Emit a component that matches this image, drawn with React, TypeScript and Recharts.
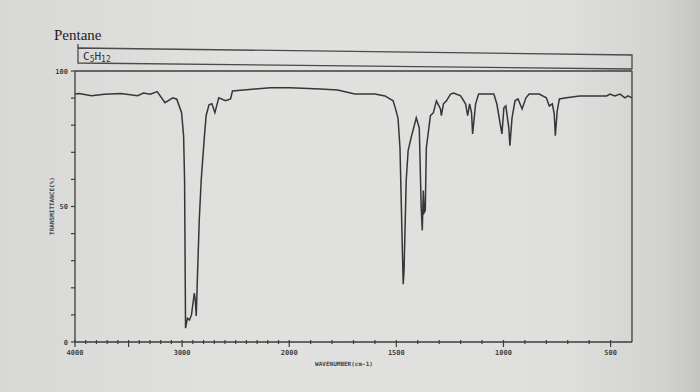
import React from 'react';
import { LineChart, Line, XAxis, YAxis, ReferenceLine } from 'recharts';

// IR spectrum of pentane: wavenumber (cm-1) and transmittance (%)
const wavenumbers = [
  4000, 3963, 3845, 3726, 3571, 3416, 3361, 3297, 3233, 3160, 3087, 3050, 3005, 2986, 2977,
  2968, 2950, 2932, 2913, 2886, 2877, 2868, 2858, 2840, 2822, 2795, 2776, 2749, 2722, 2694,
  2658, 2594, 2548, 2530, 2320, 2174, 1995, 1854, 1774, 1694, 1600, 1553, 1515, 1501, 1492,
  1483, 1473, 1468, 1464, 1454, 1445, 1431, 1407, 1393, 1384, 1379, 1374, 1370, 1365, 1360,
  1341, 1327, 1313, 1294, 1290, 1280, 1266, 1247, 1233, 1200, 1177, 1167, 1158, 1149, 1144,
  1130, 1116, 1045, 1031, 1012, 1007, 998, 989, 975, 970, 960, 946, 932, 913, 895,
  880, 833, 800, 786, 772, 763, 758, 749, 739, 706, 645, 584, 518, 503, 480,
  456, 433, 419, 400,
];
const transmittance = [
  91.5, 91.7, 90.9, 91.4, 91.7, 90.9, 91.9, 91.4, 92.4, 88.3, 90.1, 89.6, 84.6, 76, 59.6,
  5.1, 8.8, 8.1, 9.9, 18, 15.4, 9.6, 22.8, 44.9, 59.6, 74.3, 83.5, 87.5, 87.9, 84.6,
  90.1, 89, 89.7, 92.6, 93.4, 93.8, 93.8, 93.4, 93, 91.5, 91.5, 90.8, 89, 85.3, 82.4,
  71.7, 37.5, 21.3, 26.5, 59.6, 70.6, 75.4, 82.7, 79, 49.6, 41.2, 55.9, 47.8, 48.5, 71.7,
  83.5, 84.6, 89, 86, 83.5, 87.9, 89, 91.5, 91.9, 90.8, 87.9, 83.5, 87.9, 84.6, 76.8,
  87.9, 91.5, 91.5, 87.9, 79, 76.8, 86.4, 87.1, 79, 72.4, 82.7, 89, 89.7, 86, 90.1,
  91.5, 91.5, 90.1, 87.1, 87.9, 84.2, 76.1, 85.3, 89.7, 90.1, 90.8, 90.8, 90.8, 91.5, 90.8,
  91.5, 90.1, 90.8, 90.1,
];
const labeledWavenumbers = [4000, 3000, 2000, 1500, 1000, 500];
const minorWavenumbers: number[] = [];
for (let w = 4000; w >= 500; w -= 100) minorWavenumbers.push(w);
const yTicks = [0, 10, 20, 30, 40, 50, 60, 70, 80, 90, 100];
const yLabeled = [0, 50, 100];

// Chart paper: 4000-2000 at one scale, 2000-400 at double scale
const toPos = (wn: number) => (wn >= 2000 ? (4000 - wn) / 1000 : 2 + (2000 - wn) / 500);
const fromPos = (p: number) => Math.round(p <= 2 ? 4000 - p * 1000 : 2000 - (p - 2) * 500);
const X_MAX = toPos(400);

const data = wavenumbers.map((w, i) => ({ pos: toPos(w), t: transmittance[i] }));

const INK = '#3d3d3d';
const TICK_FONT = '"DejaVu Sans Mono", monospace';

const XTick = (props: any) => {
  const { x, y, payload } = props;
  const wn = fromPos(payload.value);
  const labeled = labeledWavenumbers.includes(wn);
  const major = labeled || wn === 3500;
  return (
    <g>
      <line x1={x} x2={x} y1={y - 2} y2={y + (major ? 5 : 2)} stroke={INK} strokeWidth={1.2} />
      {labeled && (
        <text x={x} y={y + 13} textAnchor="middle" fontSize={7} fontWeight="bold" fill="#444" fontFamily={TICK_FONT}>
          {wn}
        </text>
      )}
    </g>
  );
};

const YTick = (props: any) => {
  const { x, y, payload } = props;
  const v = payload.value;
  return (
    <g>
      <line x1={x - 4} x2={x} y1={y} y2={y} stroke={INK} strokeWidth={1.2} />
      {yLabeled.includes(v) && (
        <text x={x - 7} y={y + 2.5} textAnchor="end" fontSize={7} fontWeight="bold" fill="#444" fontFamily={TICK_FONT}>
          {v}
        </text>
      )}
    </g>
  );
};

export default function App() {
  return (
    <div
      style={{
        position: 'fixed',
        left: 0,
        top: 0,
        width: 700,
        height: 392,
        overflow: 'hidden',
        background: 'linear-gradient(90deg, #d8d8d6 0%, #e1e1df 35%, #dfdfdd 80%, #d2d2d0 95%, #c4c4c2 100%)',
      }}
    >
      <div
        style={{
          position: 'absolute',
          left: 54,
          top: 27,
          fontFamily: '"Liberation Serif", serif',
          fontSize: 15,
          color: '#222',
        }}
      >
        Pentane
      </div>
      <svg width={700} height={392} style={{ position: 'absolute', left: 0, top: 0 }}>
        <polygon points="78,48 632,55 632,69 78,63" fill="none" stroke="#4a4a4a" strokeWidth={1.3} />
        <line x1={78} x2={78} y1={44} y2={48} stroke="#4a4a4a" strokeWidth={1.3} />
        <text x={83} y={60} fontSize={11} fill="#333" fontFamily={TICK_FONT}>
          C<tspan fontSize={8} dy={2}>5</tspan>
          <tspan dy={-2}>H</tspan>
          <tspan fontSize={8} dy={2}>12</tspan>
        </text>
        <text
          transform="translate(54,206) rotate(-90)"
          textAnchor="middle"
          fontSize={6}
          fontWeight="bold"
          fill="#444"
          fontFamily={TICK_FONT}
        >
          TRANSMITTANCE(%)
        </text>
        <text x={344} y={366} textAnchor="middle" fontSize={6} fontWeight="bold" fill="#444" fontFamily={TICK_FONT}>
          WAVENUMBER(cm-1)
        </text>
      </svg>
      <div style={{ position: 'absolute', left: 0, top: 0 }}>
        <LineChart width={700} height={392} data={data} margin={{ top: 71, right: 68, bottom: 20, left: 35 }}>
          <XAxis
            dataKey="pos"
            type="number"
            domain={[0, X_MAX]}
            ticks={minorWavenumbers.map(toPos)}
            tick={<XTick />}
            tickLine={false}
            tickSize={0}
            tickMargin={0}
            height={30}
            axisLine={{ stroke: INK, strokeWidth: 1.3 }}
            interval={0}
            allowDataOverflow
          />
          <YAxis
            type="number"
            domain={[0, 100]}
            ticks={yTicks}
            tick={<YTick />}
            tickLine={false}
            tickSize={0}
            tickMargin={0}
            width={40}
            axisLine={{ stroke: INK, strokeWidth: 1.3 }}
            interval={0}
          />
          <ReferenceLine y={100} stroke={INK} strokeWidth={1.3} />
          <ReferenceLine x={X_MAX} stroke={INK} strokeWidth={1.3} />
          <Line
            dataKey="t"
            type="linear"
            stroke="#363636"
            strokeWidth={1.5}
            dot={false}
            isAnimationActive={false}
          />
        </LineChart>
      </div>
    </div>
  );
}
